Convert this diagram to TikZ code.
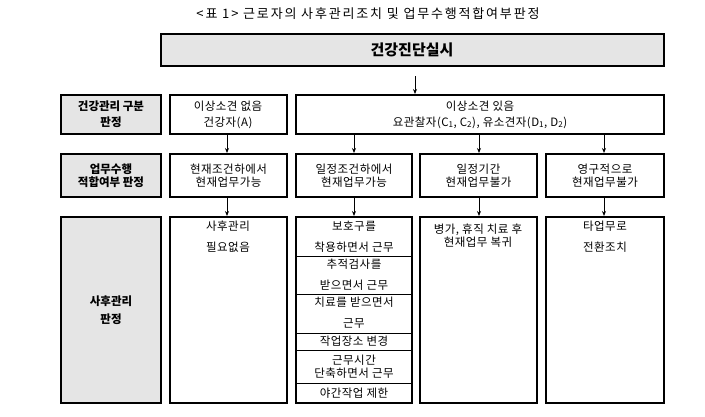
\documentclass[tikz,border=0pt]{standalone}
\usetikzlibrary{arrows.meta}
\usepackage{fontspec}
\setmainfont{Noto Sans CJK KR}
\begin{document}
\begin{tikzpicture}[x=1pt,y=-1pt,
  bx/.style={draw,line width=1.2pt,inner sep=0pt},
  gbx/.style={draw,line width=1.6pt,fill=gray!20,inner sep=0pt},
  sb/.style={draw,line width=0.8pt},
  ar/.style={-{Stealth[length=5pt,width=4pt]},line width=0.9pt},
  t/.style={font=\fontsize{11.5}{13}\selectfont\addfontfeature{LetterSpace=4},align=center},
  tb/.style={font=\fontsize{11.5}{13}\selectfont\bfseries,align=center}]
\useasboundingbox (0,0) rectangle (705,416);
\node[font=\fontsize{13}{15}\selectfont\addfontfeature{LetterSpace=14}] (title) at (368,14) {<표 1> 근로자의 사후관리조치 및 업무수행적합여부판정};
\draw[gbx] (161,34) rectangle (664,66);
\node[font=\fontsize{15}{17}\selectfont\bfseries] (top) at (412,50) {건강진단실시};
% row 1
\draw[gbx] (61,95) rectangle (161,134);
\node[tb] (l1) at (111,114.5) {건강관리 구분\\[3pt]판정};
\draw[bx] (170,95) rectangle (287,134);
\node[t] (a) at (228,114.5) {이상소견 없음\\[3pt]건강자(A)};
\draw[bx] (296,95) rectangle (664,134);
\node[t] (b) at (480,114.5) {이상소견 있음\\[3pt]요관찰자(C\textsubscript{1}, C\textsubscript{2}), 유소견자(D\textsubscript{1}, D\textsubscript{2})};
\coordinate (s0) at (415,76); \coordinate (e0) at (415,94);
\draw[ar] (s0) -- (e0);
% row 2
\draw[gbx] (61,154) rectangle (161,197);
\node[tb] (l2) at (111,175.5) {업무수행\\적합여부 판정};
\foreach \xa/\xb/\n/\tx in {170/287/c1/{현재조건하에서\\현재업무가능},296/412/c2/{일정조건하에서\\현재업무가능},420/537/c3/{일정기간\\현재업무불가},546/664/c4/{영구적으로\\현재업무불가}}{
  \draw[bx] (\xa,154) rectangle (\xb,197);
  \node[t] (\n) at ({(\xa+\xb)/2},175.5) {\tx};
}
\foreach \x in {227,354,479,604}{
  \coordinate (p\x) at (\x,134); \coordinate (q\x) at (\x,153);
  \draw[ar] (p\x) -- (q\x);
  \coordinate (r\x) at (\x,197); \coordinate (u\x) at (\x,216);
  \draw[ar] (r\x) -- (u\x);
}
% row 3
\draw[gbx] (61,217) rectangle (161,403);
\node[tb] (l3) at (111,310) {사후관리\\[5pt]판정};
\foreach \xa/\xb in {170/287,296/412,420/537,546/664}{
  \draw[bx] (\xa,217) rectangle (\xb,403);
}
\node[t] (d1) at (228,237) {사후관리\\[8pt]필요없음};
\node[t] (d3) at (478,236) {병가, 휴직 치료 후\\현재업무 복귀};
\node[t] (d4) at (605,237) {타업무로\\[8pt]전환조치};
\foreach \y in {256.7,294,333,350,383}{
  \draw[sb] (296,\y) -- (412,\y);
}
\node[t] (e1) at (354,237) {보호구를\\[8pt]착용하면서 근무};
\node[t] (e2) at (354,275) {추적검사를\\[8pt]받으면서 근무};
\node[t] (e3) at (354,313) {치료를 받으면서\\[8pt]근무};
\node[t] (e4) at (354,341.5) {작업장소 변경};
\node[t] (e5) at (354,366.5) {근무시간\\단축하면서 근무};
\node[t] (e6) at (354,393) {야간작업 제한};
\end{tikzpicture}
\end{document}
